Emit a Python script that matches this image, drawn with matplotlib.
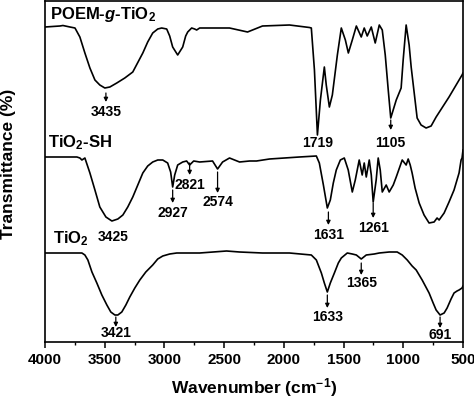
import numpy as np
import matplotlib
matplotlib.use("Agg")
import matplotlib.pyplot as plt

plt.rcParams['font.family'] = ['Liberation Sans', 'DejaVu Sans']
plt.rcParams['font.weight'] = 'bold'
plt.rcParams['mathtext.fontset'] = 'custom'
plt.rcParams['mathtext.rm'] = 'Liberation Sans:bold'
plt.rcParams['mathtext.it'] = 'Liberation Sans:bold:italic'
plt.rcParams['mathtext.bf'] = 'Liberation Sans:bold'

# ---- data (wavenumber cm^-1, transmittance a.u. with offsets) ----
poem_w = [4000, 3875, 3850, 3791, 3749, 3708, 3666, 3624, 3582, 3541, 3499, 3457, 3399,
          3332, 3265, 3181, 3140, 3098, 3056, 3023, 2981, 2956, 2931, 2889, 2847, 2822,
          2805, 2772, 2747, 2730, 2705, 2455, 2304, 2179, 1953, 1786, 1770, 1744, 1719,
          1694, 1661, 1645, 1619, 1594, 1552, 1519, 1485, 1460, 1427, 1393, 1352, 1327,
          1302, 1268, 1235, 1201, 1176, 1151, 1126, 1105, 1059, 1018, 1001, 976, 951,
          934, 884, 851, 809, 767, 725, 617, 508, 500]
poem_t = [315, 316, 316.5, 315, 314, 305, 289, 274, 262, 257, 254, 255, 259,
          264, 270, 289, 300, 309, 313, 314, 313, 306, 295, 287, 295, 306,
          310, 314, 313, 312, 314, 314, 310, 316, 317, 314.5, 314, 272, 207,
          242, 275, 257, 235, 247, 287, 314, 302, 289, 302, 316, 305, 314,
          306, 315, 299, 317, 312, 287, 252, 224, 242, 254, 282, 317, 297,
          275, 224, 217, 214, 216, 225, 245, 267, 269]

sh_w = [4000, 3875, 3733, 3708, 3691, 3666, 3624, 3582, 3541, 3490, 3440, 3390, 3348,
        3307, 3265, 3223, 3181, 3140, 3098, 3056, 3014, 2973, 2948, 2931, 2914, 2889,
        2847, 2814, 2789, 2755, 2705, 2597, 2555, 2513, 2455, 2371, 2287, 2229, 2120,
        1870, 1728, 1703, 1669, 1636, 1611, 1586, 1561, 1527, 1494, 1461, 1427, 1402,
        1369, 1344, 1327, 1310, 1285, 1268, 1252, 1227, 1210, 1193, 1176, 1143, 1118,
        1084, 1059, 1009, 976, 959, 942, 926, 901, 867, 826, 784, 742, 717, 700, 658,
        617, 575, 533, 516, 508, 500]
sh_t = [185, 185, 185, 184, 182, 184, 169, 152, 135, 125, 121, 123, 127,
        135, 145, 157, 169, 176, 180, 182, 182, 179, 170, 155, 167, 177,
        180, 181, 177, 181, 180, 181, 173, 180, 184, 180, 181, 181, 183,
        185, 186, 179, 157, 134, 142, 159, 172, 182, 184, 172, 150, 162,
        182, 167, 179, 165, 182, 167, 140, 162, 184, 172, 150, 157, 150,
        157, 165, 182, 177, 183, 177, 169, 154, 139, 127, 119, 120, 124, 122, 129,
        140, 152, 169, 182, 184, 192]

tio2_w = [4000, 3691, 3666, 3641, 3607, 3566, 3524, 3482, 3449, 3415, 3390, 3357, 3323,
          3290, 3248, 3206, 3156, 3098, 3056, 3014, 2956, 2897, 2705, 2480, 2371, 2179,
          1953, 1770, 1728, 1686, 1661, 1636, 1611, 1577, 1544, 1519, 1469, 1427, 1393,
          1352, 1310, 1243, 1201, 1118, 1051, 1009, 967, 926, 892, 842, 784, 750, 725,
          692, 658, 633, 600, 575, 550, 533, 508, 500]
tio2_t = [89, 89, 87, 82, 70, 59, 47, 37, 30, 27, 27, 30, 37,
          45, 54, 62, 70, 77, 83, 86, 88, 89, 89, 91, 90, 89,
          89, 87, 82, 69, 59, 50, 59, 69, 79, 84, 89, 88, 87,
          83, 87, 88, 89, 90, 90, 87, 82, 76, 72, 62, 49, 39, 32,
          27, 29, 34, 43, 49, 51, 52, 54, 56]

series_names = ['POEM-$\\mathit{g}$-TiO$_2$', 'TiO$_2$-SH', 'TiO$_2$']
x_ticks = [4000, 3500, 3000, 2500, 2000, 1500, 1000, 500]

# annotations: (text, wavenumber, arrow top, arrow bottom, label y) ; None = no arrow
annots = [
    ('3435', 3490, 249, 240, 230),
    ('1719', 1719, None, None, 199),
    ('1105', 1105, 222, 212, 199),
    ('3425', 3432, None, None, 105),
    ('2927', 2931, 152, 139, 129),
    ('2821', 2789, 179, 167, 157),
    ('2574', 2555, 170, 149, 140),
    ('1631', 1627, 130, 117, 107),
    ('1261', 1252, 139, 124, 114),
    ('3421', 3407, 25, 15, 9),
    ('1633', 1636, 47, 34, 25),
    ('1365', 1352, 79, 67, 59),
    ('691', 692, 25, 14, 7),
]
name_pos = [(3958, 327), (3975, 199), (3933, 103)]

fig = plt.figure(figsize=(4.74, 3.98), dpi=100)
ax = fig.add_axes([45/474, (398-342)/398, (463-45)/474, 341/398])

for w, t in [(poem_w, poem_t), (sh_w, sh_t), (tio2_w, tio2_t)]:
    ax.plot(w, t, color='black', lw=1.2)

for (txt, (xn, yn)) in zip(series_names, name_pos):
    ax.text(xn, yn, txt, fontsize=12, fontweight='bold', ha='left', va='center')

for txt, wx, y0, y1, yl in annots:
    if y0 is not None:
        ax.annotate('', xy=(wx, y1), xytext=(wx, y0),
                    arrowprops=dict(arrowstyle='-|>', color='black', lw=0.9,
                                    mutation_scale=6, shrinkA=0, shrinkB=0))
    ax.text(wx, yl, txt, fontsize=10, fontweight='bold', ha='center', va='center')

ax.set_xlim(4000, 500)
ax.set_ylim(0, 341)
ax.set_xticks(x_ticks)
ax.set_xticklabels([str(v) for v in x_ticks])
ax.set_xticks([3750, 3250, 2750, 2250, 1750, 1250, 750], minor=True)
ax.tick_params(axis='x', which='major', direction='out', length=4, width=1.1,
               labelsize=11, pad=4)
ax.tick_params(axis='x', which='minor', direction='out', length=2.5, width=1.0)
ax.set_yticks([])
for s in ax.spines.values():
    s.set_linewidth(1.2)
for lab in ax.get_xticklabels():
    lab.set_fontweight('bold')

ax.set_xlabel('Wavenumber (cm$^{-1}$)', fontsize=12.5, fontweight='bold')
ax.xaxis.set_label_coords(0.5, (342-388)/341)
ax.xaxis.label.set_va('center')
ax.set_ylabel('Transmittance (%)', fontsize=12.5, fontweight='bold')
ax.yaxis.set_label_coords((9-45)/418, (342-164)/341)
ax.yaxis.label.set_va('center')

fig.savefig('out.png', dpi=100)
